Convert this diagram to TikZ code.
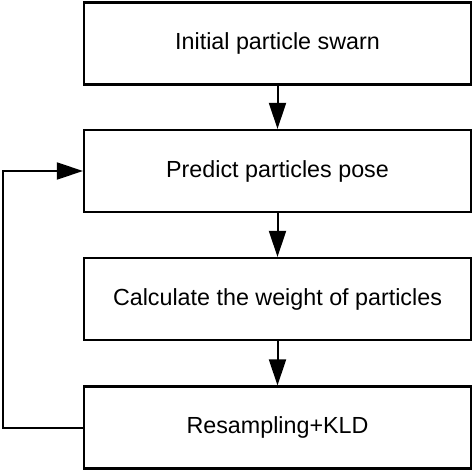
\documentclass[tikz,border=0pt]{standalone}
\usepackage{fontspec}
\setmainfont{Liberation Sans}
\usetikzlibrary{arrows.meta}
\begin{document}
\begin{tikzpicture}[x=1pt,y=-1pt,
  stepbox/.style={draw=black,line width=2.2pt,minimum width=387pt,minimum height=82pt,inner sep=0pt,font=\fontsize{23.3}{27}\selectfont},
  conn/.style={line width=2pt,-{Triangle[length=26pt,width=17pt]}}]
\useasboundingbox (0,0) rectangle (474,471);
\node[stepbox] (b1) at (277.5,43.5) {Initial particle swarn};
\node[stepbox] (b2) at (277.5,171) {Predict particles pose};
\node[stepbox] (b3) at (277.5,299) {Calculate the weight of particles};
\node[stepbox] (b4) at (277.5,427.5) {Resampling+KLD};
\draw[conn] (b1) -- (b2);
\draw[conn] (b2) -- (b3);
\draw[conn] (b3) -- (b4);
\coordinate (c1) at (2.5,427.5);
\coordinate (c2) at (2.5,171);
\draw[conn] (b4.west) -- (c1) -- (c2) -- (b2.west);
\end{tikzpicture}
\end{document}
